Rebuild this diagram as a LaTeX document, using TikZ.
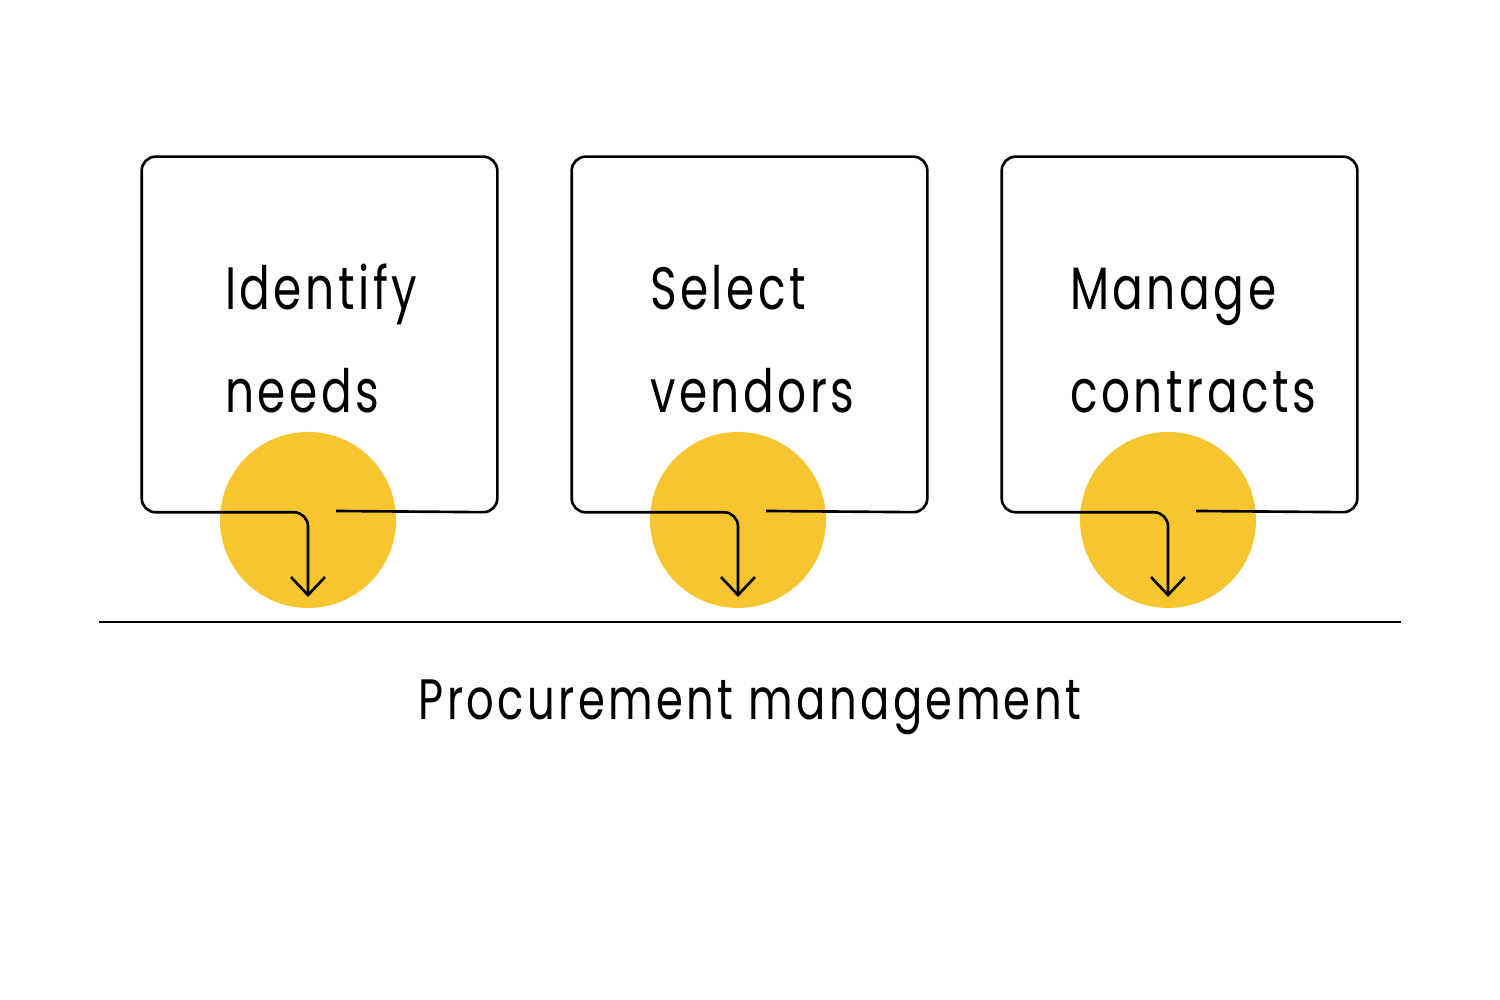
\documentclass[tikz,border=0pt]{standalone}
\usepackage{fontspec}
\setmainfont{Poppins}[FakeStretch=0.76,LetterSpace=6]
\usepackage{tikz}
\usetikzlibrary{arrows.meta}
\definecolor{sunyellow}{HTML}{F6C530}

\begin{document}
\begin{tikzpicture}[>={Straight Barb[length=1.8mm,width=3.4mm]},line width=0.75pt]
  \tikzstyle{stagebox}=[rectangle,minimum width=3.53cm,minimum height=3.53cm,inner sep=0pt]
  \tikzstyle{dot}=[circle,fill=sunyellow,minimum size=1.76cm,inner sep=0pt]
  \tikzstyle{word}=[anchor=base west,inner sep=0pt,font=\fontsize{17}{20}\selectfont]

  \useasboundingbox (0,0) rectangle (15,10);

  \foreach \i/\x/\dx/\one/\two in {1/3.195/0.82/Identify/needs,
                                   2/7.495/0.77/Select/vendors,
                                   3/11.795/0.67/Manage/contracts}
  {
    \node[stagebox] (box\i) at (\x,6.655) {};
    \node[dot] (dot\i) at (\x-0.115,4.80) {};
    \coordinate (gap\i) at (\x+0.165,4.89);
    \coordinate (tip\i) at (\x-0.115,4.03);
    \node[word] (top\i) at ([xshift=\dx cm]box\i.west |- 0,6.90) {\one};
    \node[word] (bot\i) at ([xshift=\dx cm]box\i.west |- 0,5.87) {\two};
    % box outline, its bottom edge bends down into the arrow
    \draw[->,rounded corners=0.14cm] (gap\i) -- (box\i.south east) -- (box\i.north east)
      -- (box\i.north west) -- (box\i.south west) -- (tip\i |- box\i.south) -- (tip\i);
  }

  \coordinate (lineL) at (0.99,3.78);
  \coordinate (lineR) at (14.01,3.78);
  \draw (lineL) -- (lineR);
  \node[anchor=base,inner sep=0pt,font=\fontsize{16.2}{19}\selectfont] (title) at (7.5,2.80)
    {Procurement management};
\end{tikzpicture}
\end{document}
